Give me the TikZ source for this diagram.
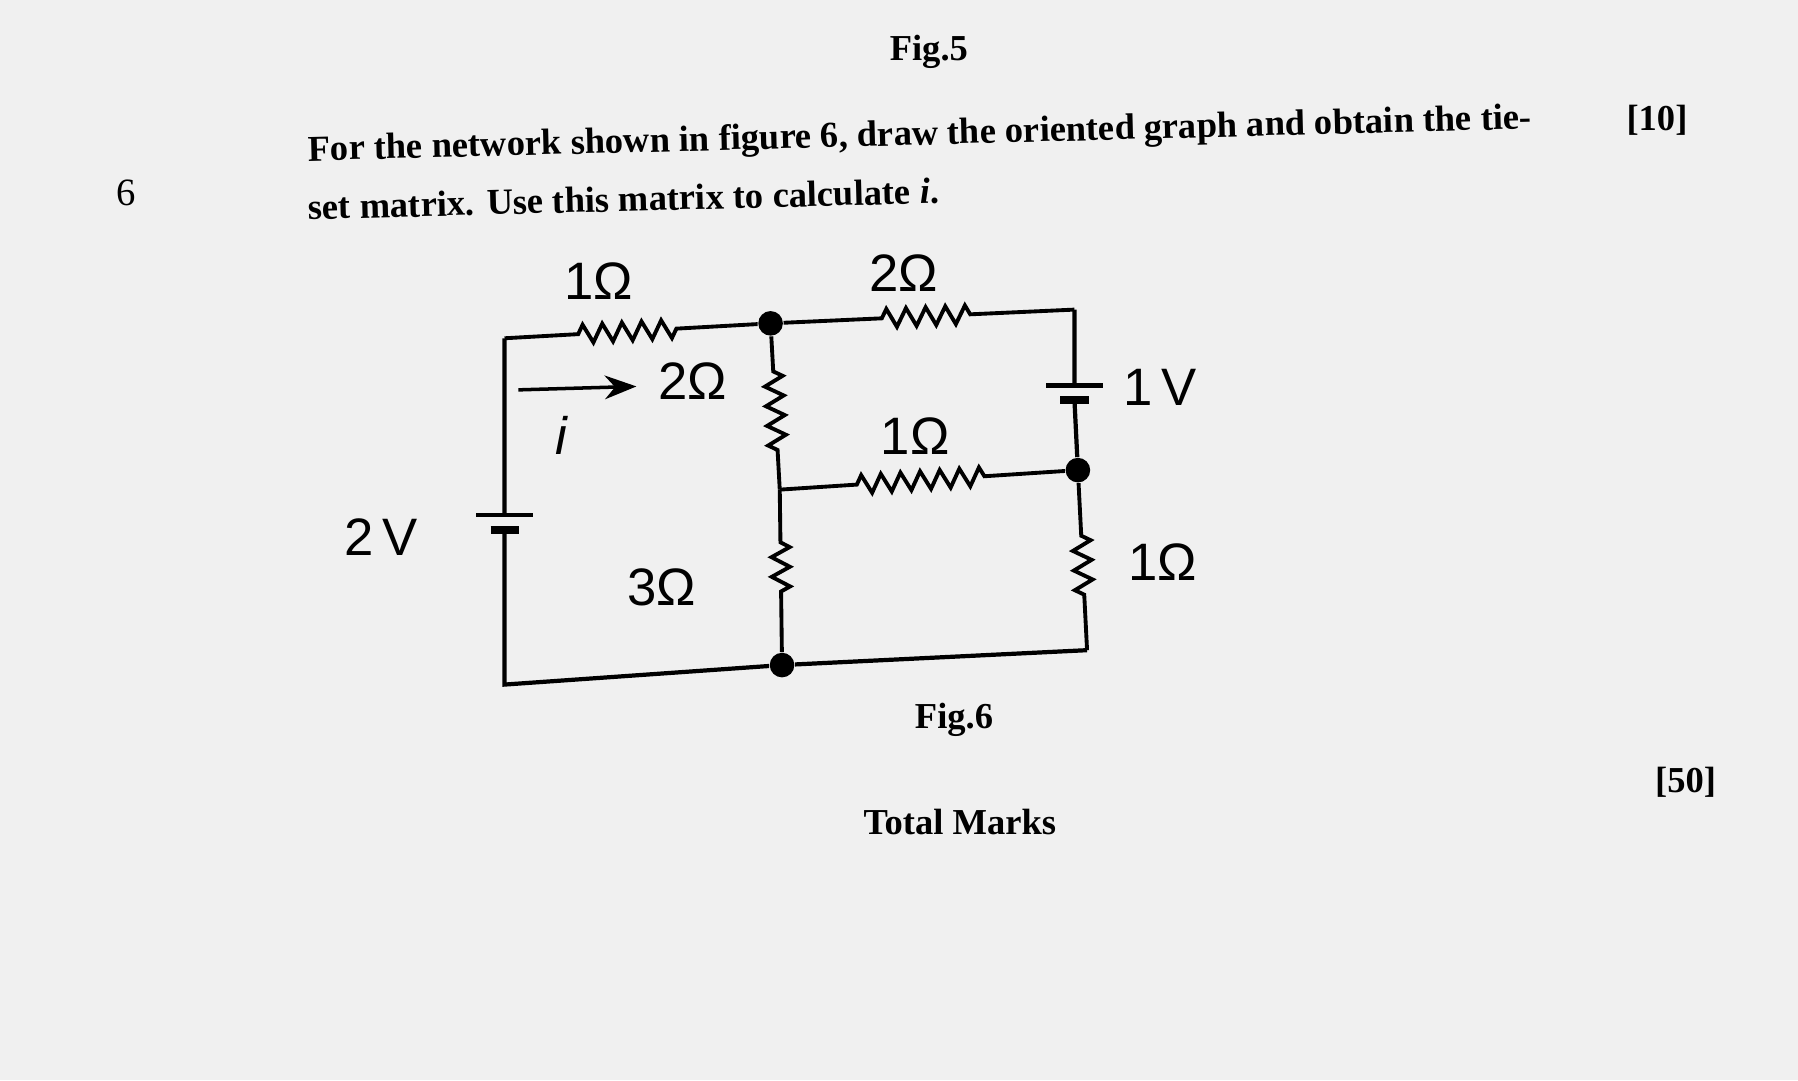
\documentclass[tikz,border=0pt]{standalone}
\usepackage{fontspec}
\setmainfont{Liberation Serif}
\newfontfamily\lab{Liberation Sans}
\usetikzlibrary{decorations.pathmorphing,arrows.meta}
\begin{document}
\begin{tikzpicture}[x=0.011467cm,y=-0.011467cm,
  wire/.style={line width=1.2pt},
  resist/.style={line width=1.1pt,decorate,decoration={zigzag,segment length=5.6pt,amplitude=2.6pt,pre length=#1,post length=#1}},
  lbl/.style={font=\lab\fontsize{15}{17}\selectfont},
  txt/.style={font=\fontsize{10.4}{12}\selectfont\bfseries},
  dot/.style={circle,fill,inner sep=0pt,minimum size=7pt}]
\fill[gray!12] (0,0) rectangle (1568,942);
\useasboundingbox (0,0) rectangle (1568,942);
% texts
\node[txt] (f5) at (810,45) {Fig.5};
\node[font=\fontsize{11}{13}\selectfont] (q) at (110,168) {6};
\node[txt,anchor=west,rotate=1.5] (t1) at (258,133) {For the network shown in figure 6, draw the oriented graph and obtain the tie-};
\node[txt,anchor=west,rotate=1.5] (t2) at (258,181) {set matrix. Use this matrix to calculate \textit{i}.};
\node[txt] (m10) at (1445,105) {[10]};
\node[txt] (f6) at (832,628) {Fig.6};
\node[txt] (tm) at (837,717) {Total Marks};
\node[txt] (m50) at (1470,682) {[50]};
% coordinates
\coordinate (TL) at (440,295);
\node[dot] (N1) at (672,282) {};
\coordinate (TR) at (937,270);
\node[dot] (N2) at (940,410) {};
\coordinate (M) at (680,427);
\node[dot] (N3) at (682,580) {};
\coordinate (BR) at (948,567);
\coordinate (BL) at (440,597);
% batteries
\coordinate (B2a) at (440,449); \coordinate (B2b) at (440,462);
\coordinate (B1a) at (937,336); \coordinate (B1b) at (937,349);
\draw[wire] (TL) -- (B2a) (B2b) -- (BL) -- (N3) -- (BR);
\draw[line width=1.3pt] ([xshift=-8pt]B2a) -- ([xshift=8pt]B2a);
\draw[line width=2.2pt] ([xshift=-4pt]B2b) -- ([xshift=4pt]B2b);
\draw[wire] (TR) -- (B1a) (B1b) -- (N2);
\draw[line width=1.3pt] ([xshift=-8pt]B1a) -- ([xshift=8pt]B1a);
\draw[line width=2.2pt] ([xshift=-4pt]B1b) -- ([xshift=4pt]B1b);
% resistors
\draw[resist=21pt] (TL) -- (N1);
\draw[resist=28pt] (N1) -- (TR);
\draw[resist=22pt] (M) -- (N2);
\draw[resist=10pt] (N1) -- (M);
\draw[resist=15pt] (M) -- (N3);
\draw[resist=15pt] (N2) -- (BR);
% arrow
\coordinate (a1) at (452,340); \coordinate (a2) at (555,337);
\draw[line width=1pt,-{Stealth[length=9pt]}] (a1) -- (a2);
% labels
\node[lbl] (l1) at (522,245) {1Ω};
\node[lbl] (l2) at (788,238) {2Ω};
\node[lbl] (l3) at (604,332) {2Ω};
\node[lbl] (li) at (490,380) {\textit{i}};
\node[lbl] (l4) at (1012,338) {1\,V};
\node[lbl] (l5) at (798,380) {1Ω};
\node[lbl] (l6) at (332,468) {2\,V};
\node[lbl] (l7) at (577,512) {3Ω};
\node[lbl] (l8) at (1014,490) {1Ω};
\end{tikzpicture}
\end{document}
